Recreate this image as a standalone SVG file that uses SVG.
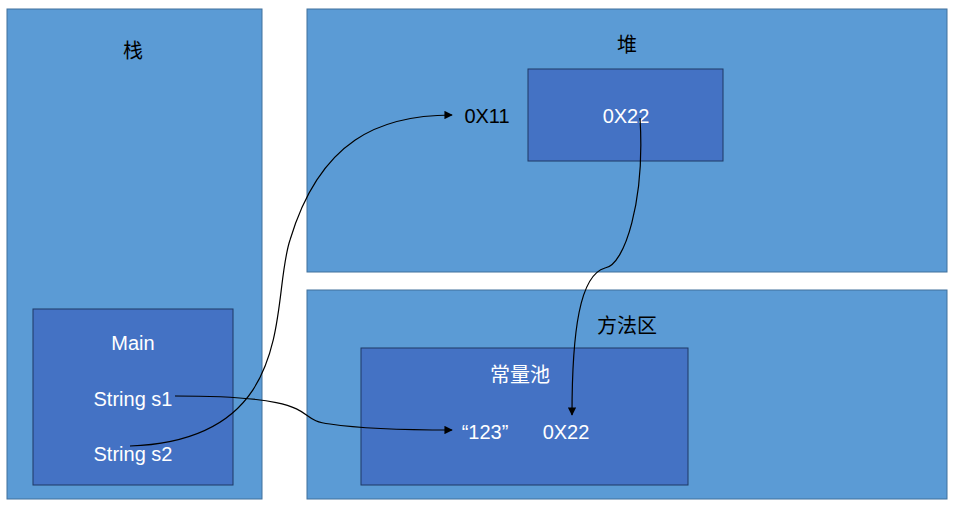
<svg xmlns="http://www.w3.org/2000/svg" width="955" height="505" viewBox="0 0 955 505">
<style>
.outer{fill:#5B9BD5;stroke:#41719C;stroke-width:1}
.inner{fill:#4472C4;stroke:#1F3864;stroke-width:1}
text{font-family:"Liberation Sans","Noto Sans CJK SC",sans-serif;font-size:20px;text-anchor:middle}
.w{fill:#fff}.k{fill:#000}
.c{fill:none;stroke:#000;stroke-width:1.2;marker-end:url(#a)}
</style>
<defs><marker id="a" viewBox="0 0 10 10" refX="9" refY="5" markerWidth="7" markerHeight="7" orient="auto"><path d="M0,0L10,5L0,10z" fill="#000"/></marker></defs>
<rect width="955" height="505" fill="#fff"/>
<g id="stack"><rect class="outer" x="7" y="9" width="255" height="490"/><text class="k" x="133" y="58">栈</text></g>
<g id="heap"><rect class="outer" x="307" y="9" width="640" height="263"/><text class="k" x="627" y="52">堆</text><text class="k" x="487" y="123">0X11</text></g>
<g id="method"><rect class="outer" x="307" y="290" width="640" height="209"/><text class="k" x="627" y="333">方法区</text></g>
<g id="main"><rect class="inner" x="33" y="309" width="200" height="176"/><text class="w" x="133" y="350">Main</text><text class="w" x="133" y="406">String s1</text><text class="w" x="133" y="461">String s2</text></g>
<g id="obj"><rect class="inner" x="528" y="69" width="195" height="92"/><text class="w" x="626" y="123">0X22</text></g>
<g id="pool"><rect class="inner" x="361" y="348" width="327" height="137"/><text class="w" x="520" y="382">常量池</text><text class="w" x="485" y="439">“123”</text><text class="w" x="566" y="439">0X22</text></g>
<g id="connectors">
<path class="c" d="M175,396 C330,396 290,420 330,424 C370,430 420,430 452,430"/>
<path class="c" d="M130,446 C300,440 270,300 290,240 C320,140 380,115 452,115"/>
<path class="c" d="M640,118 C645,200 625,265 605,268 C580,275 572,330 572,415"/>
</g>
</svg>
